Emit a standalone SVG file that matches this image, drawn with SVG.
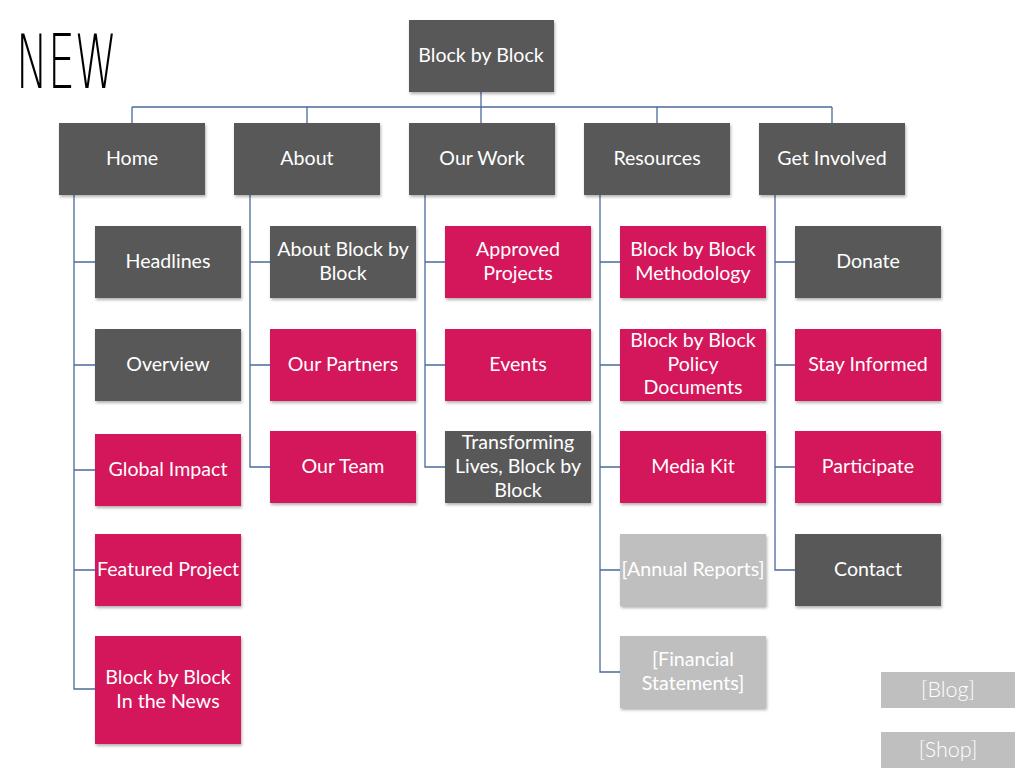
<svg xmlns="http://www.w3.org/2000/svg" width="1024" height="768" viewBox="0 0 1024 768">
<style>
.box{stroke:none;filter:url(#sh)}
.d{fill:#595959}
.p{fill:#D4145A}
.g{fill:#BFBFBF}
.t{font-family:Lato,"Noto Sans","DejaVu Sans",sans-serif;font-size:19.6px;fill:#ffffff;text-anchor:middle}
.b{font-size:21.5px;font-weight:300}
.c{fill:none;stroke:#4A6B9B;stroke-width:1.3}
</style>
<defs>
<filter id="sh" x="-10%" y="-10%" width="125%" height="130%">
<feDropShadow dx="1" dy="2" stdDeviation="1.5" flood-color="#000" flood-opacity="0.3"/>
</filter>
</defs>
<rect width="1024" height="768" fill="#ffffff"/>
<text x="16" y="88" font-family="'DejaVu Sans','Liberation Sans',sans-serif" font-weight="200" font-size="74" textLength="101" lengthAdjust="spacingAndGlyphs" fill="#000">NEW</text>
<g id="connectors">
<path class="c" d="M481 92V107M132 107H832M132 107V123M307 107V123M481 107V123M657 107V123M832 107V123"/>
<path class="c" d="M74 195V689H95M74 262H95M74 365H95M74 470H95M74 570H95"/>
<path class="c" d="M250 195V467H270M250 262H270M250 365H270"/>
<path class="c" d="M425 195V467H445M425 262H445M425 365H445"/>
<path class="c" d="M600 195V672H620M600 262H620M600 365H620M600 467H620M600 570H620"/>
<path class="c" d="M775 195V570H795M775 262H795M775 365H795M775 467H795"/>
</g>
<g id="root"><rect class="box d" x="409" y="20" width="145" height="72"/><text class="t" x="481" y="62">Block by Block</text></g>
<g id="home"><rect class="box d" x="59" y="123" width="146" height="72"/><text class="t" x="132" y="165">Home</text></g>
<g id="about"><rect class="box d" x="234" y="123" width="146" height="72"/><text class="t" x="307" y="165">About</text></g>
<g id="ourwork"><rect class="box d" x="409" y="123" width="146" height="72"/><text class="t" x="482" y="165">Our Work</text></g>
<g id="resources"><rect class="box d" x="584" y="123" width="146" height="72"/><text class="t" x="657" y="165">Resources</text></g>
<g id="getinvolved"><rect class="box d" x="759" y="123" width="146" height="72"/><text class="t" x="832" y="165">Get Involved</text></g>

<g id="headlines"><rect class="box d" x="95" y="226" width="146" height="72"/><text class="t" x="168" y="268">Headlines</text></g>
<g id="overview"><rect class="box d" x="95" y="329" width="146" height="72"/><text class="t" x="168" y="371">Overview</text></g>
<g id="globalimpact"><rect class="box p" x="95" y="434" width="146" height="72"/><text class="t" x="168" y="476">Global Impact</text></g>
<g id="featured"><rect class="box p" x="95" y="534" width="146" height="72"/><text class="t" x="168" y="576">Featured Project</text></g>
<g id="inthenews"><rect class="box p" x="95" y="636" width="146" height="108"/><text class="t" x="168" y="684">Block by Block</text><text class="t" x="168" y="708">In the News</text></g>

<g id="aboutbbb"><rect class="box d" x="270" y="226" width="146" height="72"/><text class="t" x="343" y="256">About Block by</text><text class="t" x="343" y="280">Block</text></g>
<g id="partners"><rect class="box p" x="270" y="329" width="146" height="72"/><text class="t" x="343" y="371">Our Partners</text></g>
<g id="team"><rect class="box p" x="270" y="431" width="146" height="72"/><text class="t" x="343" y="473">Our Team</text></g>

<g id="approved"><rect class="box p" x="445" y="226" width="146" height="72"/><text class="t" x="518" y="256">Approved</text><text class="t" x="518" y="280">Projects</text></g>
<g id="events"><rect class="box p" x="445" y="329" width="146" height="72"/><text class="t" x="518" y="371">Events</text></g>
<g id="transforming"><rect class="box d" x="445" y="431" width="146" height="72"/><text class="t" x="518" y="449">Transforming</text><text class="t" x="518" y="473">Lives, Block by</text><text class="t" x="518" y="497">Block</text></g>

<g id="methodology"><rect class="box p" x="620" y="226" width="146" height="72"/><text class="t" x="693" y="256">Block by Block</text><text class="t" x="693" y="280">Methodology</text></g>
<g id="policy"><rect class="box p" x="620" y="329" width="146" height="72"/><text class="t" x="693" y="347">Block by Block</text><text class="t" x="693" y="371">Policy</text><text class="t" x="693" y="394">Documents</text></g>
<g id="mediakit"><rect class="box p" x="620" y="431" width="146" height="72"/><text class="t" x="693" y="473">Media Kit</text></g>
<g id="annual"><rect class="box g" x="620" y="534" width="146" height="72"/><text class="t" x="693" y="576">[Annual Reports]</text></g>
<g id="financial"><rect class="box g" x="620" y="636" width="146" height="72"/><text class="t" x="693" y="666">[Financial</text><text class="t" x="693" y="690">Statements]</text></g>

<g id="donate"><rect class="box d" x="795" y="226" width="146" height="72"/><text class="t" x="868" y="268">Donate</text></g>
<g id="stayinformed"><rect class="box p" x="795" y="329" width="146" height="72"/><text class="t" x="868" y="371">Stay Informed</text></g>
<g id="participate"><rect class="box p" x="795" y="431" width="146" height="72"/><text class="t" x="868" y="473">Participate</text></g>
<g id="contact"><rect class="box d" x="795" y="534" width="146" height="72"/><text class="t" x="868" y="576">Contact</text></g>

<g id="blog"><rect class="g" x="881" y="672" width="134" height="36"/><text class="t b" x="948" y="697">[Blog]</text></g>
<g id="shop"><rect class="g" x="881" y="732" width="134" height="36"/><text class="t b" x="948" y="757">[Shop]</text></g>
</svg>
